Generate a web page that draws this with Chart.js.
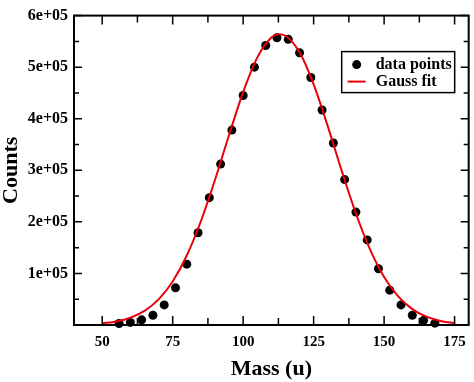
<!DOCTYPE html>
<html><head><meta charset="utf-8">
<script src="https://cdn.jsdelivr.net/npm/chart.js@4/dist/chart.umd.min.js"></script>
<style>html,body{margin:0;padding:0;background:#fff;overflow:hidden}</style>
</head><body><canvas id="c" width="474" height="382"></canvas>
<script>
// Measured data points
const massValues  = [56,60,64,68,72,76,80,84,88,92,96,100,104,108,112,116,120,124,128,132,136,140,144,148,152,156,160,164,168];
const countValues = [3000,5000,10000,19000,39000,72000,118000,179000,247000,312000,378000,445000,500000,542000,557000,554000,528000,480000,417000,353000,282000,219000,165000,109000,67500,39000,19000,9000,3600];
// Gauss fit curve
const fitMass   = [50,55,60,65,70,75,80,85,90,95,100,105,110,112.5,115,120,125,130,135,140,145,150,155,160,165,170,175];
const fitCounts = [3050,6770,14030,27250,49600,84400,134700,201200,281300,368400,451600,518500,557400,564000,561000,528800,466700,385700,298500,216200,146800,93200,55400,30900,16100,7870,3600];
// Axes
const xTickValues = [50,75,100,125,150,175];
const xTickLabels = ['50','75','100','125','150','175'];
const xMinorTicks = [62.5,87.5,112.5,137.5,162.5];
const yTickValues = [100000,200000,300000,400000,500000,600000];
const yTickLabels = ['1e+05','2e+05','3e+05','4e+05','5e+05','6e+05'];
const yMinorTicks = [50000,150000,250000,350000,450000,550000];
const seriesNames = ['data points','Gauss fit'];
const xTitle = 'Mass (u)';
const yTitle = 'Counts';

const FONT = 'Liberation Serif';
const RED = '#e8000b';

const framePlugin = {
  id: 'frame',
  afterDatasetsDraw(chart) {
    const {ctx, chartArea: a, scales: {x, y}} = chart;
    ctx.save();
    ctx.strokeStyle = '#000';
    ctx.lineWidth = 2;
    ctx.strokeRect(a.left, a.top, a.right - a.left, a.bottom - a.top);
    ctx.lineWidth = 1.5;
    ctx.beginPath();
    const xt = (vals, len) => vals.forEach(v => {
      const px = x.getPixelForValue(v);
      ctx.moveTo(px, a.bottom); ctx.lineTo(px, a.bottom - len);
      ctx.moveTo(px, a.top); ctx.lineTo(px, a.top + len);
    });
    const yt = (vals, len) => vals.forEach(v => {
      const py = y.getPixelForValue(v);
      ctx.moveTo(a.left, py); ctx.lineTo(a.left + len, py);
      ctx.moveTo(a.right, py); ctx.lineTo(a.right - len, py);
    });
    xt(xTickValues, 9); xt(xMinorTicks, 7);
    yt(yTickValues, 8); yt(yMinorTicks, 5);
    ctx.stroke();
    ctx.restore();
  }
};

const legendPlugin = {
  id: 'boxLegend',
  afterDraw(chart) {
    const {ctx, chartArea: a} = chart;
    const ds = chart.data.datasets;
    const bx = a.right - 127, by = a.top + 36, bw = 113, bh = 41;
    ctx.save();
    ctx.fillStyle = '#fff';
    ctx.fillRect(bx, by, bw, bh);
    ctx.strokeStyle = '#000';
    ctx.lineWidth = 1.5;
    ctx.strokeRect(bx, by, bw, bh);
    ctx.fillStyle = ds[0].backgroundColor;
    ctx.beginPath();
    ctx.arc(bx + 15, by + 13, 4.5, 0, Math.PI * 2);
    ctx.fill();
    ctx.strokeStyle = ds[1].borderColor;
    ctx.lineWidth = 2;
    ctx.beginPath();
    ctx.moveTo(bx + 6, by + 30); ctx.lineTo(bx + 24, by + 30);
    ctx.stroke();
    ctx.fillStyle = '#000';
    ctx.font = 'bold 16px "' + FONT + '"';
    ctx.textBaseline = 'middle';
    ctx.textAlign = 'left';
    ctx.fillText(ds[0].label, bx + 34, by + 13);
    ctx.fillText(ds[1].label, bx + 34, by + 30);
    ctx.restore();
  }
};

Chart.defaults.color = '#000';

new Chart(document.getElementById('c'), {
  type: 'scatter',
  data: {
    datasets: [
      {
        label: seriesNames[0],
        data: massValues.map((m, i) => ({x: m, y: countValues[i]})),
        backgroundColor: '#000', borderColor: '#000',
        pointRadius: 4.5, pointHoverRadius: 4.5, borderWidth: 0,
        showLine: false, clip: false, order: 2
      },
      {
        label: seriesNames[1],
        type: 'line',
        data: fitMass.map((m, i) => ({x: m, y: fitCounts[i]})),
        borderColor: RED, backgroundColor: RED,
        borderWidth: 2, pointRadius: 0, fill: false,
        cubicInterpolationMode: 'monotone', order: 1
      }
    ]
  },
  options: {
    responsive: false, animation: false, devicePixelRatio: 1,
    layout: {padding: {top: 7, right: 3, bottom: 2, left: 0}},
    plugins: {legend: {display: false}, tooltip: {enabled: false}},
    scales: {
      x: {
        type: 'linear', min: 40, max: 180,
        afterBuildTicks: s => { s.ticks = xTickValues.map(v => ({value: v})); },
        afterFit: s => { s.height = 55; },
        grid: {display: false, drawTicks: false},
        border: {display: false},
        ticks: {
          padding: 8, autoSkip: false, maxRotation: 0, color: '#000',
          font: {family: FONT, size: 15, weight: 'bold'},
          callback: v => { const i = xTickValues.indexOf(v); return i >= 0 ? xTickLabels[i] : ''; }
        },
        title: {display: true, text: xTitle, color: '#000', padding: 0,
          font: {family: FONT, size: 22, weight: 'bold', lineHeight: 1}}
      },
      y: {
        type: 'linear', min: 0, max: 600000,
        afterBuildTicks: s => { s.ticks = yTickValues.map(v => ({value: v})); },
        afterFit: s => { s.width = 74; },
        grid: {display: false, drawTicks: false},
        border: {display: false},
        ticks: {
          padding: 6, autoSkip: false, color: '#000',
          font: {family: FONT, size: 16, weight: 'bold'},
          callback: v => { const i = yTickValues.indexOf(v); return i >= 0 ? yTickLabels[i] : ''; }
        },
        title: {display: true, text: yTitle, color: '#000', padding: 0,
          font: {family: FONT, size: 22, weight: 'bold', lineHeight: 1}}
      }
    }
  },
  plugins: [framePlugin, legendPlugin]
});
</script>
</body></html>
